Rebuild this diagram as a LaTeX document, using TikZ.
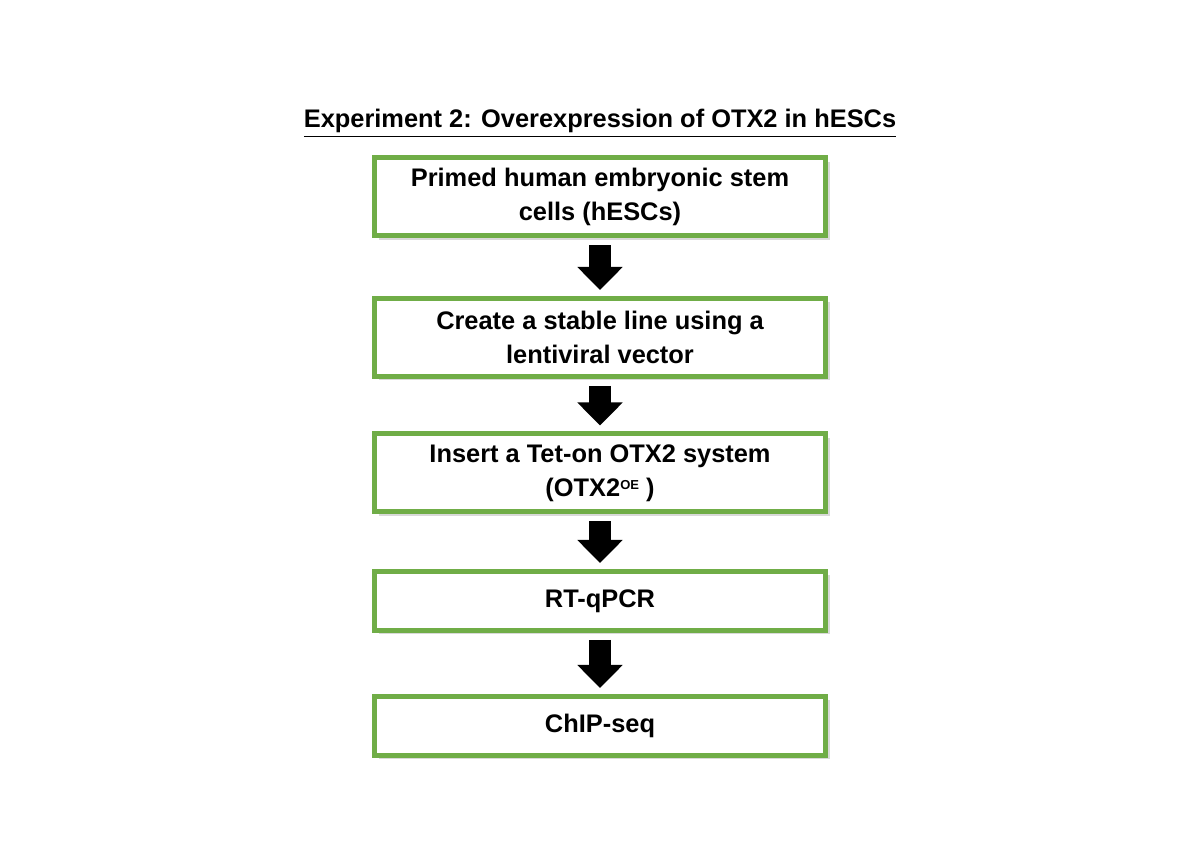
\documentclass[tikz,border=0pt]{standalone}
\usepackage{fontspec}
\setmainfont{Liberation Sans}
\usepackage{tikz}
\usetikzlibrary{positioning,arrows.meta,shadows}
\usepackage{xcolor}
\definecolor{stagegreen}{HTML}{70AD47}

\begin{document}
\begin{tikzpicture}[x=0.5pt,y=-0.5pt,semithick]
  \tikzstyle{every node}=[font=\fontsize{12.7}{17}\selectfont\bfseries]
  \tikzstyle{stage}=[draw=stagegreen,line width=2.5pt,fill=white,minimum width=225.5pt,minimum height=39pt,align=center,
                     drop shadow={opacity=0.3,shadow xshift=2pt,shadow yshift=-2pt}]
  \tikzstyle{single}=[stage,minimum height=29.5pt]
  \tikzstyle{flow}=[line width=11pt,-{Triangle[width=22pt,length=11.5pt]},shorten <=3.5pt,shorten >=3pt]

  \useasboundingbox (0,0) rectangle (1200,849);

  \node[anchor=base] (title) at (600,128) {\underline{Experiment 2: Overexpression of OTX2 in hESCs}};

  \node[stage]  (cells)  at (600,197)            {Primed human embryonic stem\\cells (hESCs)};
  \node[stage]  (line)   [below=28.75pt of cells] {Create a stable line using a\\lentiviral vector};
  \node[stage]  (teton)  [below=26.25pt of line]  {Insert a Tet-on OTX2 system\\(OTX2\raisebox{3.5pt}{\fontsize{6.5}{7}\selectfont OE} )};
  \node[single] (qpcr)   [below=27.25pt of teton] {RT-qPCR};
  \node[single] (chip)   [below=30.5pt of qpcr]   {ChIP-seq};

  \draw[flow] (cells) -- (line);
  \draw[flow] (line)  -- (teton);
  \draw[flow] (teton) -- (qpcr);
  \draw[flow] (qpcr)  -- (chip);
\end{tikzpicture}
\end{document}
